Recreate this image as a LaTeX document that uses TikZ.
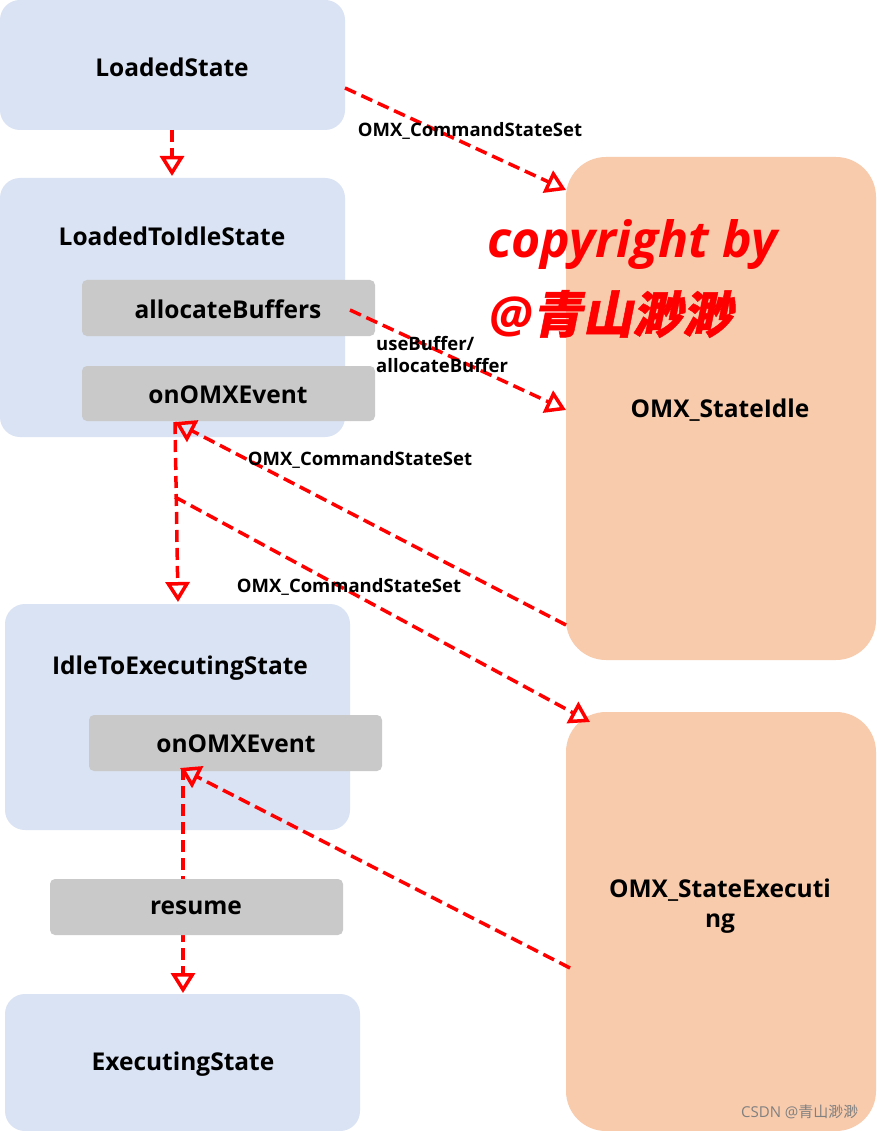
\documentclass[tikz,border=0pt]{standalone}
\usepackage{fontspec}
\setmainfont{Open Sans}
\newfontfamily\cjk{Noto Sans CJK SC}
\newfontfamily\cjkit{Noto Sans CJK SC}[FakeSlant=0.2,FakeBold=1]
\usetikzlibrary{arrows.meta}
\definecolor{lblue}{HTML}{DAE3F3}
\definecolor{lgray}{HTML}{C9C9C9}
\definecolor{peach}{HTML}{F8CBAD}
\begin{document}
\begin{tikzpicture}[x=1pt,y=-1pt,
  st/.style={fill=lblue,draw=none,rounded corners=20pt},
  gb/.style={fill=lgray,draw=none,rounded corners=5pt},
  pe/.style={fill=peach,draw=none,rounded corners=40pt},
  t/.style={font=\fontsize{24.5}{30}\selectfont\bfseries},
  lb/.style={font=\fontsize{18.5}{22}\selectfont\bfseries},
  ar/.style={red,line width=3.5pt,dash pattern=on 12pt off 6pt,-{Triangle[open,length=20pt,width=24pt,line width=3.5pt]}}]
\useasboundingbox (0,0) rectangle (876,1131);
\fill[white] (0,0) rectangle (876,1131);
\path[st] (0,0) rectangle (345,130);
\node[t] (ls) at (172,67) {LoadedState};
\path[st] (0,178) rectangle (345,437);
\node[t] (lti) at (172,236) {LoadedToIdleState};
\path[gb] (82,280) rectangle (375,336);
\node[t] (ab) at (228,309) {allocateBuffers};
\path[gb] (82,366) rectangle (375,421);
\node[t] (oe1) at (228,395) {onOMXEvent};
\path[st] (5,604) rectangle (350,830);
\node[t] (ite) at (180,668) {IdleToExecutingState};
\path[gb] (89,715) rectangle (382,771);
\node[t] (oe2) at (236,744) {onOMXEvent};
\path[st] (5,994) rectangle (360,1131);
\node[t] (es) at (183,1064) {ExecutingState};
\path[pe] (566,157) rectangle (876,660);
\node[t] (si) at (720,410) {OMX\_StateIdle};
\path[pe] (566,712) rectangle (876,1131);
\node[t,align=center] (se) at (720,906) {OMX\_StateExecuti\\ng};
\coordinate (a1s) at (345,88); \coordinate (a1e) at (566,190);
\coordinate (a2s) at (172,130); \coordinate (a2e) at (172,176);
\coordinate (a3s) at (350,310); \coordinate (a3e) at (566,410);
\coordinate (a4s) at (566,625); \coordinate (a4e) at (175,422);
\coordinate (a5s) at (175,422); \coordinate (a5e) at (178,602);
\coordinate (a6s) at (175,497); \coordinate (a6e) at (590,722);
\coordinate (a7s) at (570,968); \coordinate (a7e) at (180,768);
\coordinate (a8s) at (183,768); \coordinate (a8e) at (183,993);
\draw[ar] (a1s) -- (a1e);
\draw[ar] (a2s) -- (a2e);
\draw[ar] (a3s) -- (a3e);
\draw[ar] (a4s) -- (a4e);
\draw[ar] (a5s) -- (a5e);
\draw[ar] (a6s) -- (a6e);
\draw[ar] (a7s) -- (a7e);
\draw[ar] (a8s) -- (a8e);
\path[gb] (50,879) rectangle (343,935);
\node[t] (rs) at (196,908) {resume};
\node[lb] at (470,131) {OMX\_CommandStateSet};
\node[lb,align=left,anchor=west,inner sep=0pt] at (376,355) {useBuffer/\\allocateBuffer};
\node[lb] at (360,460) {OMX\_CommandStateSet};
\node[lb] at (349,587) {OMX\_CommandStateSet};
\node[red,anchor=west,font=\fontsize{50}{56}\selectfont\bfseries\itshape] at (484,245) {copyright by};
\node[red,anchor=west,font=\fontsize{50}{56}\selectfont\bfseries\itshape] at (486,314) {@{\cjkit\fontsize{50}{56}\selectfont 青山渺渺}};
\node[gray,anchor=east,font=\fontsize{15}{18}\selectfont] at (862,1112) {CSDN @{\cjk 青山渺渺}};
\end{tikzpicture}
\end{document}
